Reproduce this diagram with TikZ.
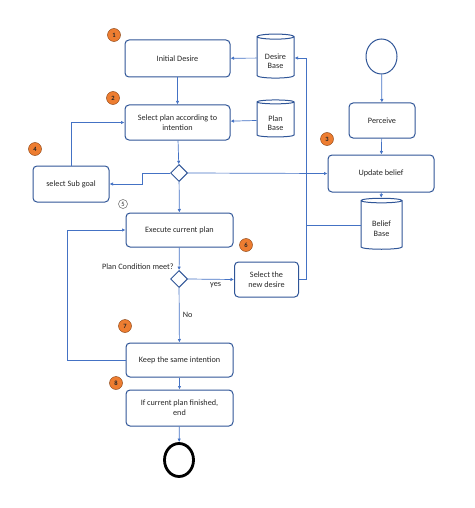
\documentclass[tikz,border=0pt]{standalone}
\usepackage{fontspec}
\setmainfont{Carlito}
\usetikzlibrary{shapes.geometric,arrows.meta}
\definecolor{boxblue}{HTML}{2F5597}
\definecolor{lineblue}{HTML}{4472C4}
\definecolor{badgeor}{HTML}{ED7D31}
\definecolor{badgeline}{HTML}{843C0C}
\newcommand{\dropstrut}{\rule{0pt}{12pt}}
\tikzset{
  every node/.style={font=\fontsize{8.2}{9.8}\selectfont, text=black!85},
  stepbox/.style={draw=boxblue, line width=1pt, rounded corners=4pt, align=center, inner sep=1pt},
  store/.style={draw=boxblue, line width=1pt, cylinder, shape border rotate=90, aspect=0.22, align=center, inner sep=1pt},
  decide/.style={draw=boxblue, line width=1pt, diamond, minimum width=17pt, minimum height=17pt, inner sep=0pt},
  conn/.style={draw=lineblue, line width=0.7pt, -{Latex[length=3.5pt,width=3.5pt]}},
  plain/.style={draw=lineblue, line width=0.7pt},
  badge/.style={circle, fill=badgeor, draw=badgeline, line width=0.4pt, minimum size=13pt, inner sep=0pt, font=\fontsize{6.5}{7}\selectfont\bfseries},
}
\begin{document}
\begin{tikzpicture}[x=1pt,y=-1pt]
\useasboundingbox (0,0) rectangle (474,508);
% boxes
\node[stepbox, minimum width=105pt, minimum height=37pt] (init) at (177.5,58.5) {Initial Desire};
\node[stepbox, minimum width=105pt, minimum height=35pt] (select) at (177.5,122.5) {Select plan according to\\intention};
\node[stepbox, minimum width=76pt, minimum height=36pt] (sub) at (71,184) {select Sub goal};
\node[stepbox, minimum width=107pt, minimum height=34pt] (exec) at (179.5,230) {Execute current plan};
\node[stepbox, minimum width=64pt, minimum height=35pt] (newd) at (266.5,279.5) {Select the\\new desire};
\node[stepbox, minimum width=107pt, minimum height=34pt] (keep) at (179.5,360) {Keep the same intention};
\node[stepbox, minimum width=107pt, minimum height=36pt] (fin) at (179.5,408) {If current plan finished,\\end};
\node[stepbox, minimum width=66pt, minimum height=35pt] (perc) at (382,120.5) {Perceive};
\node[stepbox, minimum width=106pt, minimum height=37pt] (upd) at (381,173.5) {Update belief};
% stores
\node[store, minimum width=37pt, minimum height=44pt] (dbase) at (275.5,58) {\dropstrut Desire\\Base};
\node[store, minimum width=37pt, minimum height=37pt] (pbase) at (275.5,120) {\dropstrut Plan\\Base};
\node[store, minimum width=41pt, minimum height=51pt] (bbase) at (381.5,225.5) {\dropstrut Belief\\Base};
% decisions
\node[decide] (d1) at (179,173) {};
\node[decide] (d2) at (179,279) {};
% start / end
\node[draw=boxblue, line width=1pt, ellipse, minimum width=31pt, minimum height=35pt, inner sep=0pt] (start) at (381.5,56.5) {};
\node[draw=black, line width=2.8pt, ellipse, minimum width=29pt, minimum height=33pt, inner sep=0pt] (end) at (179,460) {};
% helper coordinates
\coordinate (rx) at (306,0);
\coordinate (lx) at (67,0);
% connectors: main spine
\draw[conn] (init) -- (select);
\draw[conn] (select) -- (d1);
\draw[conn] (d1) -- (exec);
\draw[conn] (exec) -- (d2);
\draw[conn] (d2) -- node[right, pos=0.5] {No} (keep);
\draw[conn] (keep) -- (fin);
\draw[conn] (fin) -- (end);
% stores
\draw[conn] (dbase) -- (init);
\draw[conn] (pbase) -- (select);
% perceive column
\draw[conn] (start) -- (perc);
\draw[conn] (perc) -- (upd);
\draw[conn] (upd) -- (bbase);
% decision branches
\draw[conn] (d1.east) -- (upd.west);
\draw[conn] (d1.west) -- (142,173) -- (142,184) -- (sub.east);
\draw[conn] (sub.north) -- (71,122.5) -- (select.west);
\draw[conn] (d2.east) -- node[below, pos=0.6] {yes} (newd.west);
\node[anchor=south east, inner sep=1pt] (pcm) at (175,271) {Plan Condition meet?};
% return to desire base
\draw[conn] (newd.east) -- (newd.east -| rx) -- (dbase.east -| rx) -- (dbase.east);
\draw[plain] (bbase.west) -- (bbase.west -| rx);
% loop back
\draw[conn] (keep.west) -- (keep.west -| lx) -- (exec.west -| lx) -- (exec.west);
% badges
\node[badge] (b1) at (114,35) {1};
\node[badge] (b2) at (113,98) {2};
\node[badge] (b3) at (327,139) {3};
\node[badge] (b4) at (35,149) {4};
\node[badge] (b6) at (246,245) {6};
\node[badge] (b7) at (125,326) {7};
\node[badge] (b8) at (116,383) {8};
\node[circle, draw=black!60, line width=0.5pt, minimum size=9pt, inner sep=0pt, font=\fontsize{6.5}{7}\selectfont] (b5) at (123,204) {5};
\end{tikzpicture}
\end{document}
